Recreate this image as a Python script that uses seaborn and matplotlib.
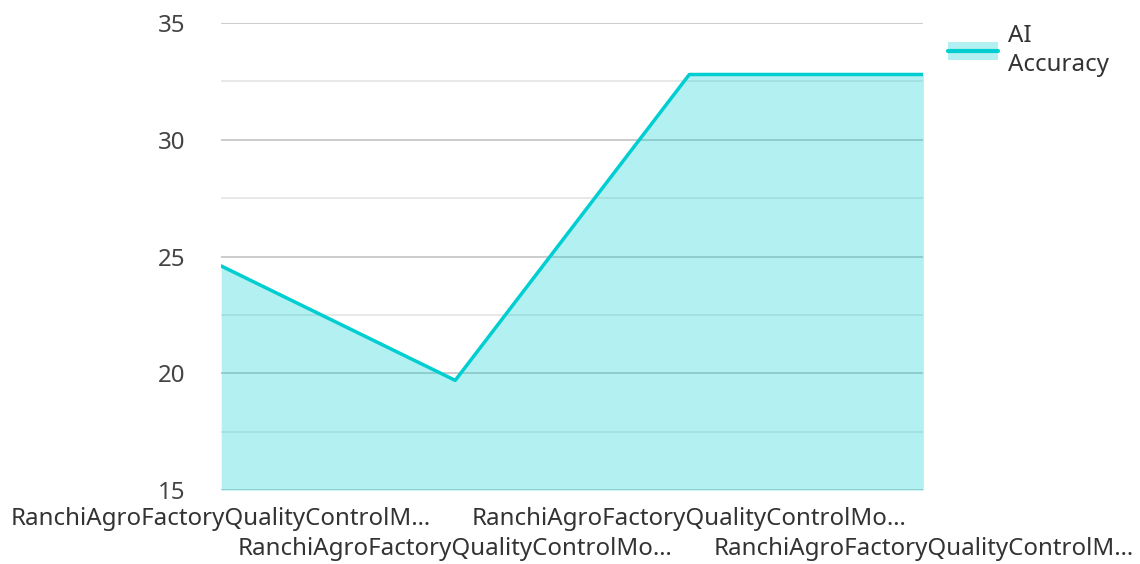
import matplotlib
matplotlib.use("Agg")
import matplotlib.pyplot as plt
import seaborn as sns
import pandas as pd
from matplotlib.lines import Line2D
from matplotlib.patches import Patch
from matplotlib.ticker import MultipleLocator

# data
labels = [
    "RanchiAgroFactoryQualityControlM…",
    "RanchiAgroFactoryQualityControlMo…",
    "RanchiAgroFactoryQualityControlMo…",
    "RanchiAgroFactoryQualityControlM…",
]
ai_accuracy = [24.6, 19.7, 32.8, 32.8]
series_name = "AI\nAccuracy"

line_color = "#00CED1"
fill_alpha = 0.3

sns.set_style("white")
plt.rcParams["font.family"] = ["Noto Sans", "DejaVu Sans"]

df = pd.DataFrame({"pos": range(len(labels)), "value": ai_accuracy})

fig = plt.figure(figsize=(11.4, 5.64), dpi=100)
ax = fig.add_axes([0.194, 0.131, 0.616, 0.828])

# grid under a semi-transparent fill
ax.set_axisbelow(True)
ax.fill_between(df["pos"], df["value"], 15, color=line_color, alpha=fill_alpha, lw=0, zorder=1)
sns.lineplot(data=df, x="pos", y="value", color=line_color, linewidth=2.5, ax=ax, zorder=3)

ax.set_ylim(15, 35)
ax.set_xlim(0, len(labels) - 1)
ax.yaxis.set_major_locator(MultipleLocator(5))
ax.yaxis.set_minor_locator(MultipleLocator(2.5))
ax.grid(True, which="major", axis="y", color="#c8c8c8", linewidth=1.3, zorder=0)
ax.grid(True, which="minor", axis="y", color="#e6e6e6", linewidth=1.3, zorder=0)
for sp in ax.spines.values():
    sp.set_visible(False)

ax.set_xticks(list(df["pos"]))
ax.set_xticklabels(labels)
ax.tick_params(axis="x", length=0, labelsize=17.3, colors="#333333", pad=12)
# stagger the long category labels on two rows
for i, tick in enumerate(ax.xaxis.get_major_ticks()):
    if i % 2 == 1:
        tick.set_pad(12 + 22)
ax.tick_params(axis="y", which="both", length=0, labelsize=17.3, colors="#444444", pad=26)
ax.set_xlabel("")
ax.set_ylabel("")

handle = (Patch(facecolor=line_color, alpha=fill_alpha, edgecolor="none"),
          Line2D([0], [0], color=line_color, linewidth=3))
leg = ax.legend([handle], [series_name], loc="upper left", bbox_to_anchor=(1.004, 1.045),
                frameon=False, fontsize=17.3, handlelength=2.1, handleheight=0.8,
                handletextpad=0.4, labelcolor="#333333")
leg.get_texts()[0].set_linespacing(1.3)

fig.savefig("out.png", dpi=100, facecolor="white")
